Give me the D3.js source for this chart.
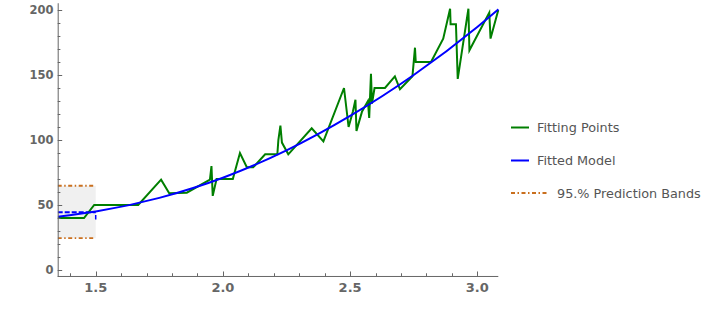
<!DOCTYPE html>
<html lang="en">
<head>
  <meta charset="utf-8">
  <title>Fit</title>
  <script src="https://cdnjs.cloudflare.com/ajax/libs/d3/7.8.5/d3.min.js"></script>
  <style>
    html, body { margin: 0; padding: 0; background: #fff; }
    text { font-family: "DejaVu Sans", sans-serif; }
    .tick-label { font-weight: bold; fill: #666; font-size: 11.5px; }
    .tick-label.xl { font-size: 13px; }
    .legend text { fill: #555; font-size: 12.8px; }
  </style>
</head>
<body>
  <svg id="chart" width="704" height="323"></svg>
  <script>
    // fitting points (green)
    var pointsX = [1.3506, 1.454, 1.494, 1.667, 1.757, 1.789, 1.858, 1.949, 1.955, 1.960, 1.975, 2.039,
                   2.067, 2.094, 2.119, 2.166, 2.214, 2.218, 2.226, 2.232, 2.257, 2.349, 2.395, 2.476,
                   2.494, 2.511, 2.521, 2.525, 2.547, 2.570, 2.575, 2.582, 2.586, 2.596, 2.637, 2.676,
                   2.696, 2.745, 2.755, 2.758, 2.818, 2.866, 2.893, 2.895, 2.916, 2.923, 2.965, 2.969,
                   3.047, 3.052, 3.0825];
    var pointsY = [40, 40, 50, 50, 69.5, 59, 59.5, 69.5, 80, 57, 70, 70,
                   90, 79, 79, 89, 89, 100, 111, 98, 89, 109, 99, 140,
                   110, 122, 131, 107, 122, 130, 117, 151, 128, 140, 140, 149,
                   139, 149, 171, 160, 160, 178, 201, 189, 189, 147, 201, 169,
                   198, 178, 200];

    // fitted model (blue), read at a few x positions
    var modelX = [1.3506, 1.5, 1.75, 2.0, 2.25, 2.5, 2.75, 3.0, 3.0825];
    var modelY = [41, 45, 55.5, 71, 92, 118.5, 150, 187, 200.5];

    // prediction band at the left end
    var bandX = [1.3506, 1.5];
    var bandUpper = [64.8, 64.8];
    var bandLower = [24.5, 24.5];
    var bandMid = [44.4, 44.4];

    var xTicks = [1.5, 2.0, 2.5, 3.0];
    var yTicks = [0, 50, 100, 150, 200];
    var legendLabels = ["Fitting Points", "Fitted Model", "95.% Prediction Bands"];

    var svg = d3.select("#chart");
    var x = d3.scaleLinear().domain([1.3506, 3.0825]).range([57.7, 498.3]);
    var y = d3.scaleLinear().domain([0, 200]).range([270, 10]);
    var yMin = -4.6, yMax = 205.2;

    svg.append("clipPath").attr("id", "clip")
      .append("rect").attr("x", x(1.3506)).attr("y", 0)
      .attr("width", x(3.0825) - x(1.3506) + 1).attr("height", y(yMin));

    var plot = svg.append("g").attr("clip-path", "url(#clip)");

    // band
    plot.append("rect")
      .attr("x", x(bandX[0])).attr("y", y(bandUpper[0]))
      .attr("width", x(bandX[1]) - x(bandX[0]))
      .attr("height", y(bandLower[0]) - y(bandUpper[0]))
      .attr("fill", "#f0f0f0");

    var line = d3.line().x(function (d) { return x(d[0]); }).y(function (d) { return y(d[1]); });

    [bandUpper, bandLower].forEach(function (b) {
      plot.append("path")
        .attr("d", line(d3.zip(bandX, b)))
        .attr("fill", "none").attr("stroke", "#c96f1e").attr("stroke-width", 1.8)
        .attr("stroke-dasharray", "4,2.5,1.5,2.5");
    });

    plot.append("path")
      .attr("d", line(d3.zip(bandX, bandMid)))
      .attr("fill", "none").attr("stroke", "#0000ff").attr("stroke-width", 2)
      .attr("stroke-dasharray", "5,2");

    plot.append("path")
      .attr("d", line([[bandX[1], 42.3], [bandX[1], 38.9]]))
      .attr("fill", "none").attr("stroke", "#0000ff").attr("stroke-width", 1.5);

    plot.append("path")
      .attr("d", line(d3.zip(pointsX, pointsY)))
      .attr("fill", "none").attr("stroke", "#007f00").attr("stroke-width", 2)
      .attr("stroke-linejoin", "miter");

    plot.append("path")
      .attr("d", line.curve(d3.curveMonotoneX)(d3.zip(modelX, modelY)))
      .attr("fill", "none").attr("stroke", "#0000ff").attr("stroke-width", 2);

    // axes
    var axisColor = "#666";
    var axes = svg.append("g").attr("stroke", axisColor).attr("stroke-width", 1);

    axes.append("line")
      .attr("x1", x(1.3506)).attr("x2", x(3.0825))
      .attr("y1", y(yMin) + 0.5).attr("y2", y(yMin) + 0.5);
    axes.append("line")
      .attr("x1", x(1.3506) + 0.5).attr("x2", x(1.3506) + 0.5)
      .attr("y1", y(yMax)).attr("y2", y(yMin) + 1);

    var xMinor = d3.range(14, 31).map(function (v) { return v / 10; });
    xMinor.forEach(function (v) {
      var major = xTicks.indexOf(v) != -1;
      axes.append("line")
        .attr("x1", Math.round(x(v)) + 0.5).attr("x2", Math.round(x(v)) + 0.5)
        .attr("y1", y(yMin)).attr("y2", y(yMin) - (major ? 4.5 : 2.7));
    });

    var yMinor = d3.range(0, 210, 10);
    yMinor.forEach(function (v) {
      var major = yTicks.indexOf(v) != -1;
      axes.append("line")
        .attr("y1", Math.round(y(v)) + 0.5).attr("y2", Math.round(y(v)) + 0.5)
        .attr("x1", x(1.3506)).attr("x2", x(1.3506) + (major ? 4.5 : 2.7));
    });

    svg.selectAll(".xl").data(xTicks).enter().append("text")
      .attr("class", "tick-label xl")
      .attr("x", function (d) { return x(d); })
      .attr("y", 292)
      .attr("text-anchor", "middle")
      .text(function (d) { return d3.format(".1f")(d); });

    svg.selectAll(".yl").data(yTicks).enter().append("text")
      .attr("class", "tick-label yl")
      .attr("x", 53.5)
      .attr("y", function (d) { return y(d) + 4.2; })
      .attr("text-anchor", "end")
      .text(function (d) { return d; });

    // legend
    var legend = svg.append("g").attr("class", "legend");
    var legendY = [127.5, 160.5, 193];
    var legendStroke = [
      { c: "#007f00", dash: null, w: 18 },
      { c: "#0000ff", dash: null, w: 18 },
      { c: "#c96f1e", dash: "4,2.5,1.5,2.5", w: 38 }
    ];
    legendLabels.forEach(function (t, i) {
      legend.append("line")
        .attr("x1", 511).attr("x2", 511 + legendStroke[i].w)
        .attr("y1", legendY[i]).attr("y2", legendY[i])
        .attr("stroke", legendStroke[i].c).attr("stroke-width", 2)
        .attr("stroke-dasharray", legendStroke[i].dash);
      legend.append("text")
        .attr("x", i == 2 ? 557 : 537)
        .attr("y", legendY[i] + 4.5)
        .text(t);
    });
  </script>
</body>
</html>
